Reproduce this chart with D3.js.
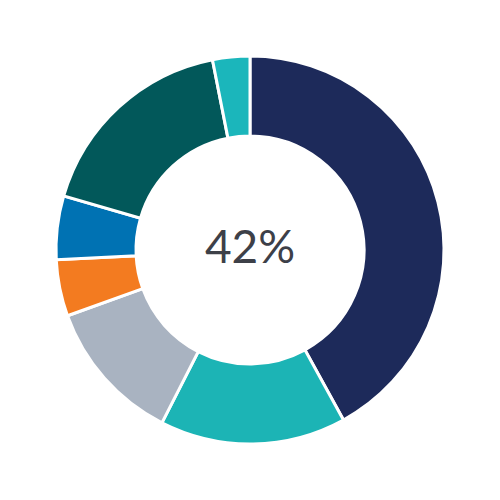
<!DOCTYPE html>
<html>
<head>
<meta charset="utf-8">
<script src="https://cdn.jsdelivr.net/npm/d3@7"></script>
<style>
  html, body { margin: 0; padding: 0; background: #fff; }
  #chart { width: 500px; height: 500px; }
</style>
</head>
<body>
<div id="chart"></div>
<script>
// DATA
const categories = ["A", "B", "C", "D", "E", "F", "G"];
const values = [42, 15.5, 12, 4.7, 5.3, 17.4, 3.1];
const colors = ["#1d2a5a", "#1cb4b5", "#a9b3c1", "#f37b20", "#0072b3", "#02585a", "#1bb6bb"];
const centerLabel = "42%";

const width = 500, height = 500;
const outerR = 194, innerR = 114;

const svg = d3.select("#chart")
  .append("svg")
  .attr("width", width)
  .attr("height", height)
  .append("g")
  .attr("transform", "translate(" + 250 + "," + 250 + ")");

const color = d3.scaleOrdinal().domain(categories).range(colors);

const pie = d3.pie().sort(null).value(d => d.value);
const arc = d3.arc().innerRadius(innerR).outerRadius(outerR);

const data = categories.map((c, i) => ({ key: c, value: values[i] }));

svg.selectAll("path")
  .data(pie(data))
  .join("path")
  .attr("d", arc)
  .attr("fill", d => color(d.data.key))
  .attr("stroke", "#fff")
  .attr("stroke-width", 3);

svg.append("text")
  .attr("text-anchor", "middle")
  .attr("y", 13)
  .attr("font-family", "Lato, sans-serif")
  .attr("font-size", 46)
  .attr("fill", "#3d4048")
  .text(centerLabel);
</script>
</body>
</html>
